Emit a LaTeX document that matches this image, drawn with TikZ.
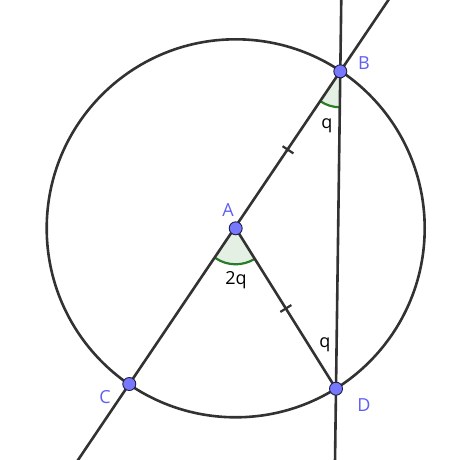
\documentclass[tikz,border=0pt]{standalone}
\usepackage{fontspec}
\setmainfont{Open Sans}
\usetikzlibrary{calc,angles}
\definecolor{linec}{RGB}{50,50,50}
\definecolor{ptfill}{RGB}{120,120,255}
\definecolor{ptdraw}{RGB}{30,30,70}
\definecolor{lblc}{RGB}{95,95,245}
\definecolor{angfill}{RGB}{228,240,228}
\definecolor{angdraw}{RGB}{40,125,40}
\tikzset{
  geo/.style={draw=linec, line width=2.6pt},
  pt/.style={circle, fill=ptfill, draw=ptdraw, line width=0.9pt, minimum size=13pt, inner sep=0pt},
  lbl/.style={text=lblc, font=\fontsize{18}{21}\selectfont, inner sep=0pt},
  txt/.style={text=black, font=\fontsize{18}{21}\selectfont, inner sep=0pt},
  angmark/.style={draw=angdraw, fill=angfill, line width=2.2pt, angle radius=36pt},
  tick/.style={draw=linec, line width=2.2pt}
}
\begin{document}
\begin{tikzpicture}[x=1pt,y=1pt]
\useasboundingbox (0,0) rectangle (474,459);
\begin{scope}
\clip (0,0) rectangle (474,459);
\coordinate (A) at (235.7,230.7);
\coordinate (B) at (340.3,387.7);
\coordinate (C) at (129.3,75);
\coordinate (D) at (336,70.3);
% angle marks
\pic [angmark] {angle = C--A--D};
\pic [angmark] {angle = A--B--D};
% circle
\draw[geo] (A) circle (189);
% lines
\coordinate (L1a) at ($(C)!-0.3!(B)$);
\coordinate (L1b) at ($(B)!-0.3!(C)$);
\coordinate (L2a) at ($(D)!-0.3!(B)$);
\coordinate (L2b) at ($(B)!-0.3!(D)$);
\draw[geo] (L1a) -- (L1b);
\draw[geo] (L2a) -- (L2b);
\draw[geo] (A) -- (D);
% ticks
\coordinate (M1) at ($(A)!0.5!(B)$);
\coordinate (M2) at ($(A)!0.5!(D)$);
\draw[tick] ($(M1)!6.5pt!90:(B)$) -- ($(M1)!6.5pt!-90:(B)$);
\draw[tick] ($(M2)!6.5pt!90:(D)$) -- ($(M2)!6.5pt!-90:(D)$);
\end{scope}
% points
\node[pt] (pA) at (A) {};
\node[pt] (pB) at (B) {};
\node[pt] (pC) at (C) {};
\node[pt] (pD) at (D) {};
% labels
\node[lbl] (tA) at (228,249) {A};
\node[lbl] (tB) at (364,396) {B};
\node[lbl] (tC) at (105,62) {C};
\node[lbl] (tD) at (364,54) {D};
\node[txt] (q1) at (327,333) {q};
\node[txt] (q2) at (236,179) {2q};
\node[txt] (q3) at (325,114) {q};
\end{tikzpicture}
\end{document}
